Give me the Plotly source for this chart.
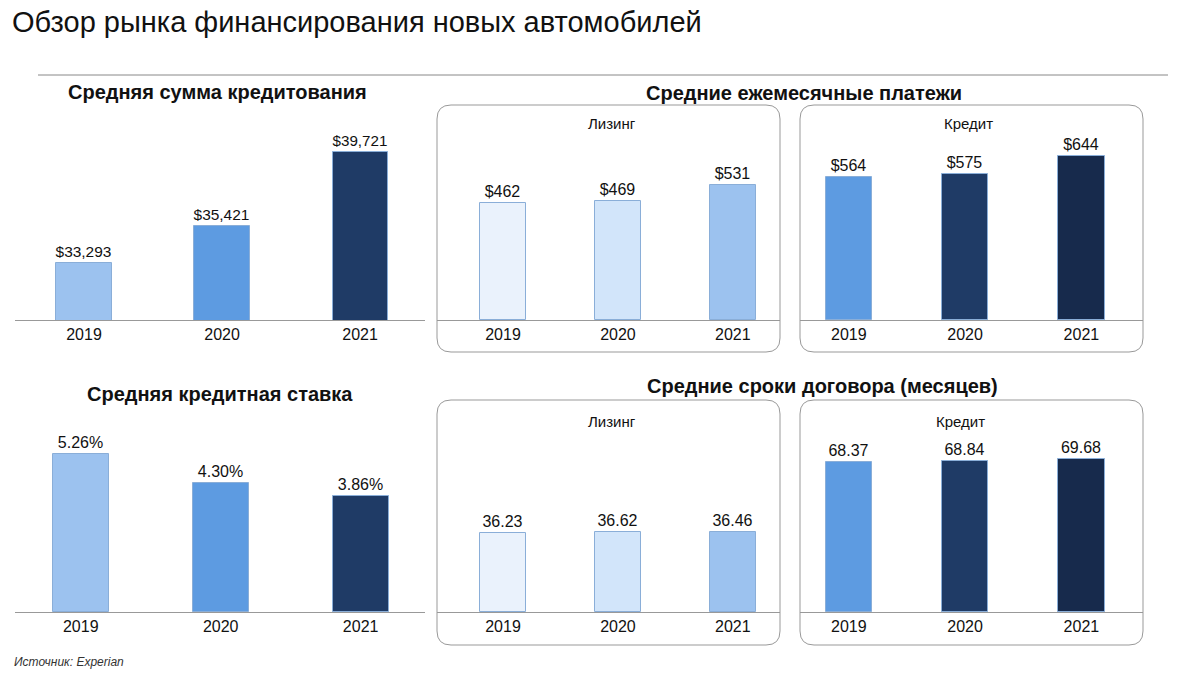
import plotly.graph_objects as go

years = ["2019", "2020", "2021"]
loan_amount = [33293, 35421, 39721]
loan_amount_lbl = ["$33,293", "$35,421", "$39,721"]
lease_pay = [462, 469, 531]
credit_pay = [564, 575, 644]
rate = [5.26, 4.30, 3.86]
lease_term = [36.23, 36.62, 36.46]
credit_term = [68.37, 68.84, 69.68]

W, H = 1200, 675
OFF = 8  # page body margin compensation
FONT = "Liberation Sans Narrow, Liberation Sans, Arial"
c_l1, c_l2 = "#EAF2FC", "#D2E5FA"
c_light, c_mid, c_dark, c_darker = "#9CC2EF", "#5D9BE1", "#1F3B66", "#172A4C"

fig = go.Figure()

def px_x(p): return (p - OFF) / W
def px_y(p): return 1 - (p - OFF) / H

panels = [
    (loan_amount, loan_amount_lbl, [c_light, c_mid, c_dark], (15, 425), (-0.5, 2.47), (130, 320), (30000, 41000)),
    (lease_pay, [f"${v}" for v in lease_pay], [c_l1, c_l2, c_light], (437, 780), (-0.574, 2.41), (130, 320), (0, 748)),
    (credit_pay, [f"${v}" for v in credit_pay], [c_mid, c_dark, c_darker], (800, 1143), (-0.42, 2.53), (130, 320), (0, 748)),
    (rate, [f"{v:.2f}%" for v in rate], [c_light, c_mid, c_dark], (15, 425), (-0.47, 2.46), (430, 612), (0, 6.07)),
    (lease_term, [f"{v:.2f}" for v in lease_term], [c_l1, c_l2, c_light], (437, 780), (-0.574, 2.41), (430, 612), (0, 83)),
    (credit_term, [f"{v:.2f}" for v in credit_term], [c_mid, c_dark, c_darker], (800, 1143), (-0.42, 2.53), (430, 612), (0, 83)),
]

for i, (vals, lbls, cols, xd, xr, yd, yr) in enumerate(panels, start=1):
    xa = "x" if i == 1 else f"x{i}"
    ya = "y" if i == 1 else f"y{i}"
    fig.add_trace(go.Bar(
        x=[0, 1, 2], y=vals, text=lbls, textposition="outside", cliponaxis=False,
        textfont=dict(size=16, color="#111", family=FONT),
        marker=dict(color=cols, line=dict(color="#8AAED8", width=1)),
        width=0.4, xaxis=xa, yaxis=ya, showlegend=False, hoverinfo="skip"))
    fig.update_layout(**{
        ("xaxis" if i == 1 else f"xaxis{i}"): dict(
            domain=[px_x(xd[0]), px_x(xd[1])], range=list(xr), anchor=ya,
            tickvals=[0, 1, 2], ticktext=years, showline=True, linecolor="#999",
            showgrid=False, zeroline=False, ticks="", tickfont=dict(size=16, family=FONT, color="#111")),
        ("yaxis" if i == 1 else f"yaxis{i}"): dict(
            domain=[px_y(yd[1]), px_y(yd[0])], range=list(yr), anchor=xa,
            visible=False, showgrid=False),
    })

def rrect(x0, y0, x1, y1, r=14):
    X = lambda p: px_x(p)
    Y = lambda p: px_y(p)
    return (f"M {X(x0+r)},{Y(y0)} L {X(x1-r)},{Y(y0)} Q {X(x1)},{Y(y0)} {X(x1)},{Y(y0+r)} "
            f"L {X(x1)},{Y(y1-r)} Q {X(x1)},{Y(y1)} {X(x1-r)},{Y(y1)} "
            f"L {X(x0+r)},{Y(y1)} Q {X(x0)},{Y(y1)} {X(x0)},{Y(y1-r)} "
            f"L {X(x0)},{Y(y0+r)} Q {X(x0)},{Y(y0)} {X(x0+r)},{Y(y0)} Z")

shapes = [dict(type="line", xref="paper", yref="paper", x0=px_x(38), x1=px_x(1168),
               y0=px_y(75), y1=px_y(75), line=dict(color="#888", width=1))]
for b in [(437, 105, 780, 352), (800, 105, 1143, 352), (437, 400, 780, 645), (800, 400, 1143, 645)]:
    shapes.append(dict(type="path", xref="paper", yref="paper", path=rrect(*b),
                       line=dict(color="#999", width=1)))

ann = []
def txt(t, x, y, size, bold=False, anchor="center", italic=False, color="#111"):
    s = f"<b>{t}</b>" if bold else t
    if italic: s = f"<i>{s}</i>"
    ann.append(dict(text=s, x=px_x(x), y=px_y(y), xref="paper", yref="paper",
                    xanchor=anchor, yanchor="middle", showarrow=False,
                    font=dict(size=size, family=FONT, color=color)))

txt("Обзор рынка финансирования новых автомобилей", 10, 22, 29, anchor="left")
txt("Средняя сумма кредитования", 217, 92, 20, bold=True)
txt("Средние ежемесячные платежи", 804, 93, 20, bold=True)
txt("Средняя кредитная ставка", 220, 394, 20, bold=True)
txt("Средние сроки договора (месяцев)", 822, 386, 20, bold=True)
txt("Лизинг", 612, 123, 15)
txt("Кредит", 968, 123, 15)
txt("Лизинг", 612, 422, 15)
txt("Кредит", 960, 422, 15)
txt("Источник: Experian", 12, 662, 12, anchor="left", italic=True, color="#333")

fig.update_layout(width=W, height=H, margin=dict(l=0, r=0, t=0, b=0),
                  plot_bgcolor="white", paper_bgcolor="white",
                  shapes=shapes, annotations=ann, bargap=0)
fig.write_html("out.html")
